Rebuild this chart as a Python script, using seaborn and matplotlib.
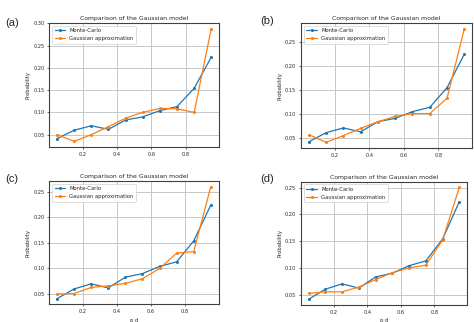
import numpy as np
import pandas as pd
import matplotlib
matplotlib.use("Agg")
import matplotlib.pyplot as plt
import seaborn as sns

# detection probability grid
p_d = [0.05, 0.15, 0.25, 0.35, 0.45, 0.55, 0.65, 0.75, 0.85, 0.95]

# Monte-Carlo estimate (shared by all four cases)
monte_carlo = [0.041, 0.060, 0.070, 0.062, 0.083, 0.090, 0.104, 0.113, 0.154, 0.224]

# Gaussian approximation for each case
gauss_a = [0.050, 0.035, 0.050, 0.068, 0.087, 0.100, 0.109, 0.108, 0.100, 0.288]
gauss_b = [0.056, 0.040, 0.054, 0.069, 0.083, 0.094, 0.100, 0.100, 0.132, 0.277]
gauss_c = [0.050, 0.051, 0.063, 0.066, 0.071, 0.080, 0.100, 0.130, 0.133, 0.260]
gauss_d = [0.052, 0.055, 0.055, 0.064, 0.078, 0.091, 0.100, 0.105, 0.152, 0.251]

panel_tags = ["(a)", "(b)", "(c)", "(d)"]
series_names = ["Monte-Carlo", "Gaussian approximation"]
title_text = "Comparison of the Gaussian model"

sns.set_style("whitegrid", {
    "axes.edgecolor": "0.25",
    "grid.color": "0.78",
    "xtick.bottom": True,
    "ytick.left": True,
})
plt.rcParams["font.family"] = ["DejaVu Sans"]

fig = plt.figure(figsize=(4.74, 3.22), dpi=100)

# axes rectangles in figure fractions
rects = [
    [0.104, 0.5435, 0.358, 0.385],
    [0.635, 0.5404, 0.361, 0.388],
    [0.104, 0.055, 0.357, 0.383],
    [0.635, 0.053, 0.350, 0.383],
]
tag_pos = [(0.012, 0.93), (0.548, 0.935), (0.012, 0.445), (0.548, 0.445)]
gaussians = [gauss_a, gauss_b, gauss_c, gauss_d]
palette = {"Monte-Carlo": "#1f77b4", "Gaussian approximation": "#ff7f0e"}

for i, (rect, gvals) in enumerate(zip(rects, gaussians)):
    ax = fig.add_axes(rect)
    df = pd.DataFrame({
        "p_d": p_d * 2,
        "Probability": monte_carlo + gvals,
        "method": [series_names[0]] * len(p_d) + [series_names[1]] * len(p_d),
    })
    sns.lineplot(data=df, x="p_d", y="Probability", hue="method",
                 palette=palette, marker="o", markersize=2.2,
                 markeredgewidth=0, linewidth=0.9, ax=ax, sort=False)
    ax.set_xticks([0.2, 0.4, 0.6, 0.8])
    ax.set_xticklabels(["0.2", "0.4", "0.6", "0.8"])
    ax.tick_params(labelsize=3.6, length=1.5, width=0.5, pad=2)
    for s in ax.spines.values():
        s.set_linewidth(0.8)
    ax.grid(True, linewidth=0.7)
    ax.set_title(title_text, fontsize=4.4, pad=2)
    ax.set_ylabel("Probability", fontsize=3.8, labelpad=2)
    if i >= 2:
        ax.set_xlabel("p_d", fontsize=3.8, labelpad=2)
    else:
        ax.set_xlabel("")
    leg = ax.legend(loc="upper left", fontsize=3.8, frameon=True,
                    handlelength=2.0, borderpad=0.5, labelspacing=0.5,
                    framealpha=0.9)
    leg.get_frame().set_linewidth(0.5)
    leg.set_title(None)
    fig.text(tag_pos[i][0], tag_pos[i][1], panel_tags[i], fontsize=8,
             family="Liberation Sans", va="center", ha="left")

fig.savefig("out.png", dpi=100)
